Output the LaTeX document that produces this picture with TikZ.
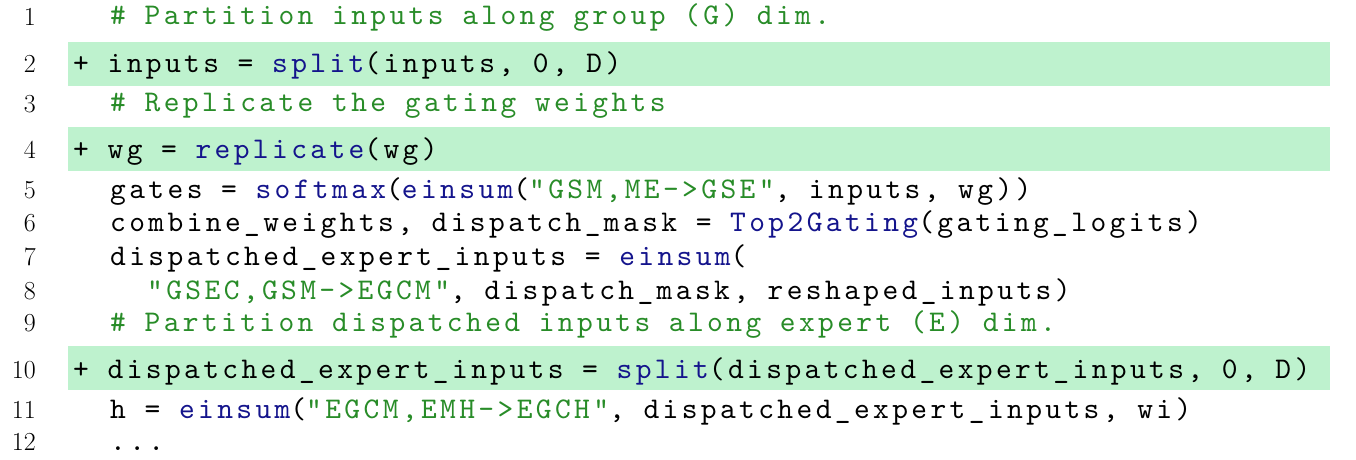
\documentclass[tikz,border=0pt]{standalone}
\usepackage{fontspec}
\newfontfamily\codefont{lmmono10-regular.otf}[LetterSpace=11.3]
\definecolor{kw}{RGB}{20,20,140}
\definecolor{cm}{RGB}{40,140,40}
\definecolor{band}{RGB}{190,242,206}
\newcommand{\K}[1]{\textcolor{kw}{#1}}
\newcommand{\C}[1]{\textcolor{cm}{#1}}
\newcommand{\codesetup}{\fontsize{30}{34}\codefont\fontdimen2\font=18.67pt\relax\fontdimen3\font=0pt\relax\fontdimen4\font=0pt\relax}
\tikzset{
  codeline/.style={anchor=base west, inner sep=0pt, font=\codesetup},
  lnum/.style={anchor=base east, inner sep=0pt, font=\fontsize{26}{30}\selectfont}
}
\begin{document}
\begin{tikzpicture}[x=1pt,y=-1pt]
\useasboundingbox (0,0) rectangle (1356,460);
\fill[band] (68,42) rectangle (1330,86);
\fill[band] (68,127) rectangle (1330,171);
\fill[band] (68,346) rectangle (1330,390);
\foreach \n/\y in {1/26,2/72,3/112,4/158,5/198,6/231,7/265,8/299,9/331,10/378,11/418,12/450}
  \node[lnum] (n\n) at (36,\y) {\n};
\node[codeline] (l1) at (110,25) {\C{\# Partition inputs along group (G) dim.}};
\node[codeline] (l2) at (73,72) {+ inputs = \K{split}(inputs, 0, D)};
\node[codeline] (l3) at (110,111) {\C{\# Replicate the gating weights}};
\node[codeline] (l4) at (73,158) {+ wg = \K{replicate}(wg)};
\node[codeline] (l5) at (110,198) {gates = \K{softmax}(\K{einsum}(\C{"GSM,ME->GSE"}, inputs, wg))};
\node[codeline] (l6) at (110,231) {combine\_weights, dispatch\_mask = \K{Top2Gating}(gating\_logits)};
\node[codeline] (l7) at (110,265) {dispatched\_expert\_inputs = \K{einsum}(};
\node[codeline] (l8) at (147,299) {\C{"GSEC,GSM->EGCM"}, dispatch\_mask, reshaped\_inputs)};
\node[codeline] (l9) at (110,331) {\C{\# Partition dispatched inputs along expert (E) dim.}};
\node[codeline] (l10) at (73,378) {+ dispatched\_expert\_inputs = \K{split}(dispatched\_expert\_inputs, 0, D)};
\node[codeline] (l11) at (110,418) {h = \K{einsum}(\C{"EGCM,EMH->EGCH"}, dispatched\_expert\_inputs, wi)};
\node[codeline] (l12) at (110,450) {...};
\end{tikzpicture}
\end{document}
